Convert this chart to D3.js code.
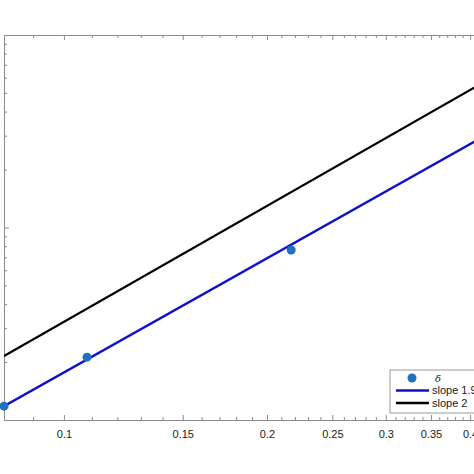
<!DOCTYPE html>
<html>
<head>
<meta charset="utf-8">
<script src="https://cdn.jsdelivr.net/npm/d3@7"></script>
<style>
  html, body { margin:0; padding:0; background:#fff; }
  svg { display:block; font-family:"Liberation Sans", Arial, sans-serif; }
</style>
</head>
<body>
<div id="chart"></div>
<script>
// measured points (delta) and the two reference lines, log-log
var deltaX = [0.0815, 0.1082, 0.2172]
var deltaY = [1.18e-4, 2.12e-4, 7.64e-4]
var fitX   = [0.0815, 0.44]
var fitY   = [1.18e-4, 3.27e-3]
var refX   = [0.0815, 0.44]
var refY   = [2.15e-4, 6.27e-3]

var xMajor = [0.1, 0.15, 0.2, 0.25, 0.3, 0.35, 0.4]
var xMinor = [0.09, 0.11, 0.12, 0.13, 0.14, 0.16, 0.17, 0.18, 0.19, 0.21, 0.22, 0.23, 0.24,
              0.26, 0.27, 0.28, 0.29, 0.31, 0.32, 0.33, 0.34, 0.36, 0.37, 0.38, 0.39, 0.41, 0.42, 0.43]
var yMajor = [1e-3]
var yMinor = [2e-4, 3e-4, 4e-4, 5e-4, 6e-4, 7e-4, 8e-4, 9e-4,
              2e-3, 3e-3, 4e-3, 5e-3, 6e-3, 7e-3, 8e-3, 9e-3]

var legendItems = [
    { label:'δ',          type:'dot',  color:'#1f72bd' },
    { label:'slope 1.97', type:'line', color:'#1111cc' },
    { label:'slope 2',    type:'line', color:'#000' }
]

var W = 474, H = 474
var m = { top:35, right:498, bottom:420, left:4 }   // plot box edges (right edge lies past the window)
var axisColor = '#8c8c8c'

var svg = d3.select('#chart').append('svg')
    .attr('width', W)
    .attr('height', H)

var x = d3.scaleLog().domain([0.0815, 0.44]).range([m.left, m.right])
var y = d3.scaleLog().domain([1e-4, 1e-2]).range([m.bottom, m.top])

svg.append('clipPath')
    .attr('id', 'clip')
    .append('rect')
        .attr('x', m.left)
        .attr('y', m.top)
        .attr('width', m.right - m.left)
        .attr('height', m.bottom - m.top)

// axes: ticks point inward, matlab style
function styleAxis(g) {
    g.selectAll('path.domain').attr('stroke', axisColor)
    g.selectAll('.tick line').attr('stroke', axisColor)
    g.selectAll('.tick text')
        .attr('fill', '#222')
        .attr('font-size', 11)
        .attr('font-family', '"Liberation Sans", Arial, sans-serif')
}

function addAxis(axisFn, scale, vals, size, fmt, tr) {
    var a = axisFn(scale).tickValues(vals).tickSizeInner(-size).tickSizeOuter(0)
        .tickFormat(fmt).tickPadding(10)
    svg.append('g').attr('transform', tr).call(a).call(styleAxis)
}

var lab = d3.format('~g')
addAxis(d3.axisBottom, x, xMinor, 3, '', 'translate(0,' + m.bottom + ')')
addAxis(d3.axisBottom, x, xMajor, 5, lab, 'translate(0,' + m.bottom + ')')
addAxis(d3.axisTop,    x, xMinor, 3, '', 'translate(0,' + m.top + ')')
addAxis(d3.axisTop,    x, xMajor, 5, '', 'translate(0,' + m.top + ')')
addAxis(d3.axisLeft,   y, yMinor, 3, '', 'translate(' + m.left + ',0)')
addAxis(d3.axisLeft,   y, yMajor, 5, '', 'translate(' + m.left + ',0)')
addAxis(d3.axisRight,  y, yMinor, 3, '', 'translate(' + m.right + ',0)')
addAxis(d3.axisRight,  y, yMajor, 5, '', 'translate(' + m.right + ',0)')

// data
var box = svg.append('g').attr('clip-path', 'url(#clip)')
var line = d3.line().x(d=> x(d[0])).y(d=> y(d[1]))

box.append('path')
    .datum(d3.zip(refX, refY))
    .attr('d', line)
    .attr('fill', 'none')
    .attr('stroke', legendItems[2].color)
    .attr('stroke-width', 2.3)

box.append('path')
    .datum(d3.zip(fitX, fitY))
    .attr('d', line)
    .attr('fill', 'none')
    .attr('stroke', legendItems[1].color)
    .attr('stroke-width', 2.3)

svg.append('g').selectAll('circle')
    .data(d3.zip(deltaX, deltaY))
    .join('circle')
        .attr('cx', d=> x(d[0]))
        .attr('cy', d=> y(d[1]))
        .attr('r', 4.5)
        .attr('fill', legendItems[0].color)

// legend
var lg = svg.append('g').attr('transform', 'translate(390,370)')
lg.append('rect')
    .attr('x', 0).attr('y', 0)
    .attr('width', 130).attr('height', 43)
    .attr('fill', '#fff')
    .attr('stroke', '#9a9a9a')
    .attr('stroke-width', 1)

var row = lg.selectAll('g.row')
    .data(legendItems)
    .join('g')
        .attr('class', 'row')
        .attr('transform', (d, i)=> 'translate(0,' + (8 + i*12.5) + ')')

row.filter(d=> d.type == 'dot').append('circle')
    .attr('cx', 22).attr('cy', 0).attr('r', 4.5)
    .attr('fill', d=> d.color)

row.filter(d=> d.type == 'line').append('line')
    .attr('x1', 6).attr('x2', 39)
    .attr('y1', 0).attr('y2', 0)
    .attr('stroke', d=> d.color)
    .attr('stroke-width', 2.3)

row.append('text')
    .attr('x', d=> d.type == 'dot' ? 45 : 42)
    .attr('y', 0)
    .attr('dy', '0.35em')
    .attr('font-size', d=> d.type == 'dot' ? 10 : 11)
    .attr('font-style', d=> d.type == 'dot' ? 'italic' : 'normal')
    .attr('font-family', d=> d.type == 'dot' ? '"DejaVu Serif", serif' : '"Liberation Sans", Arial, sans-serif')
    .attr('fill', '#1a1a1a')
    .text(d=> d.label)
</script>
</body>
</html>
